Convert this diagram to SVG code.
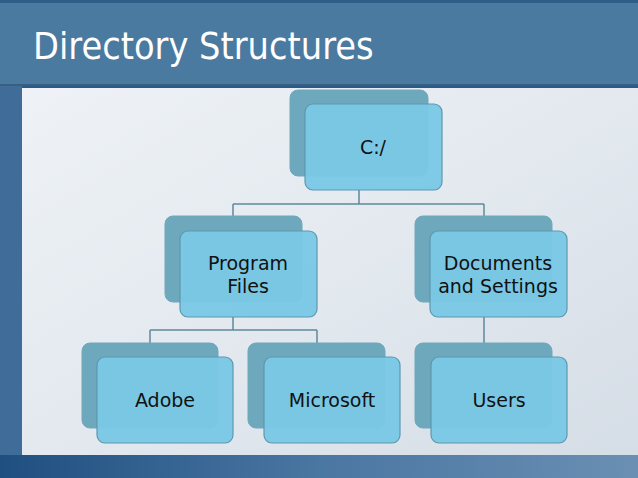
<svg xmlns="http://www.w3.org/2000/svg" width="638" height="478" viewBox="0 0 638 478">
<defs>
<linearGradient id="bg" x1="0" y1="0" x2="1" y2="1"><stop offset="0" stop-color="#eef2f6"/><stop offset="0.5" stop-color="#e3e9ef"/><stop offset="1" stop-color="#d5dde6"/></linearGradient>
<linearGradient id="bot" x1="0" y1="0" x2="1" y2="0"><stop offset="0" stop-color="#1f4f80"/><stop offset="0.5" stop-color="#4a76a2"/><stop offset="1" stop-color="#6a8fb3"/></linearGradient>
</defs>
<style>
.back{fill:#6ea8bd;stroke:#6ea8bd;stroke-width:1}
.front{fill:#7bc8e5;fill-opacity:0.97;stroke:#5c98ad;stroke-width:1.2}
.t{font-family:"DejaVu Sans","Liberation Sans",sans-serif;font-size:19px;fill:#111;text-anchor:middle}
.c{fill:none;stroke:#5d8a9c;stroke-width:1.5}
</style>
<rect width="638" height="478" fill="#2a5a8a"/>
<rect x="0" y="86" width="22" height="370" fill="#3f6c99"/>
<rect x="22" y="88" width="616" height="367" fill="url(#bg)"/>
<rect x="0" y="455" width="638" height="23" fill="url(#bot)"/>
<rect x="0" y="0" width="638" height="84" fill="#4a7aa0"/>
<rect x="0" y="0" width="638" height="3" fill="#2e5d88"/>
<rect x="0" y="84" width="638" height="2" fill="#395f80"/>
<text x="33" y="59" font-family="'DejaVu Sans Condensed','DejaVu Sans',sans-serif" font-size="37.5" fill="#fff">Directory Structures</text>
<g id="connectors">
<path class="c" d="M359 190V204M233 204H484M233 204V216M484 204V216"/>
<path class="c" d="M233 317V330M150 330H317M150 330V343M317 330V343"/>
<path class="c" d="M484 317V343"/>
</g>
<g id="root"><rect class="back" x="290" y="90" width="138" height="86" rx="8"/><rect class="front" x="305" y="104" width="137" height="86" rx="8"/><text class="t" x="373" y="154">C:/</text></g>
<g id="program-files"><rect class="back" x="165" y="216" width="137" height="86" rx="8"/><rect class="front" x="180" y="231" width="137" height="86" rx="8"/><text class="t" x="248" y="270">Program</text><text class="t" x="248" y="293">Files</text></g>
<g id="documents"><rect class="back" x="415" y="216" width="137" height="86" rx="8"/><rect class="front" x="430" y="231" width="137" height="86" rx="8"/><text class="t" x="498" y="270">Documents</text><text class="t" x="498" y="293">and Settings</text></g>
<g id="adobe"><rect class="back" x="82" y="343" width="136" height="85" rx="8"/><rect class="front" x="97" y="357" width="136" height="86" rx="8"/><text class="t" x="165" y="407">Adobe</text></g>
<g id="microsoft"><rect class="back" x="248" y="343" width="137" height="85" rx="8"/><rect class="front" x="264" y="357" width="136" height="86" rx="8"/><text class="t" x="332" y="407">Microsoft</text></g>
<g id="users"><rect class="back" x="415" y="343" width="137" height="85" rx="8"/><rect class="front" x="431" y="357" width="136" height="86" rx="8"/><text class="t" x="499" y="407">Users</text></g>
</svg>
